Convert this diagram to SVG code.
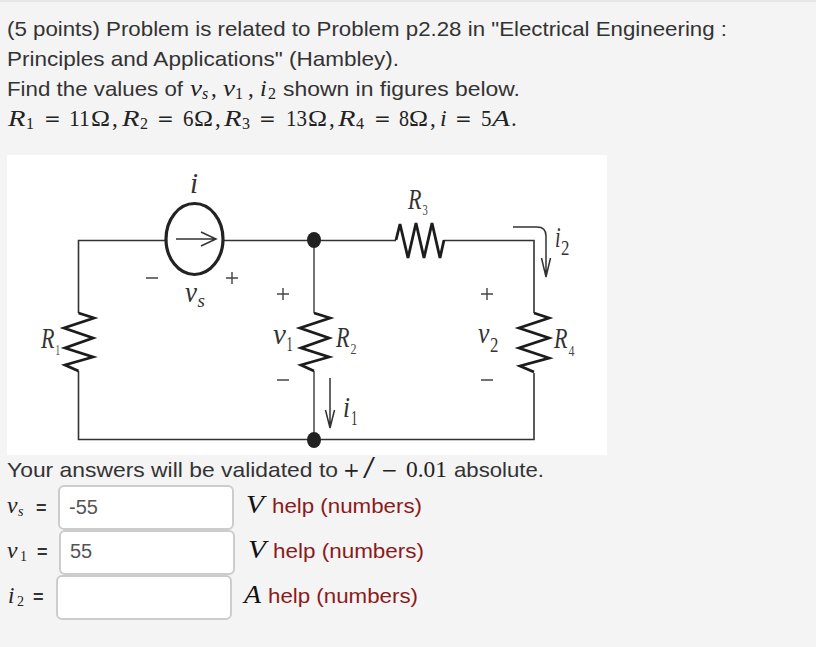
<svg xmlns="http://www.w3.org/2000/svg" width="816" height="647" viewBox="0 0 816 647">
<style>
.t{font-family:"Liberation Sans",Arial,sans-serif;font-size:21px;fill:#333}
.m{font-family:"Liberation Serif","Times New Roman",serif;font-size:23px;fill:#222}
.mi{font-family:"Liberation Serif","Times New Roman",serif;font-style:italic;font-size:24px;fill:#222}
.sb{font-family:"Liberation Serif","Times New Roman",serif;font-size:16px;fill:#222}
.e{font-family:"DejaVu Serif",serif;font-size:20px;fill:#222}
.q{font-family:"Liberation Sans",Arial,sans-serif;font-weight:bold;font-size:18px;fill:#333}
.h{font-family:"Liberation Sans",Arial,sans-serif;font-size:21px;fill:#8c1a1a}
.v{font-family:"Liberation Sans",Arial,sans-serif;font-size:20px;fill:#555}
.u{font-family:"Liberation Serif","Times New Roman",serif;font-style:italic;font-size:25px;fill:#111}
.ci{font-family:"Liberation Serif","Times New Roman",serif;font-style:italic;font-size:29px;fill:#333}
.cd{font-family:"Liberation Serif","Times New Roman",serif;font-size:21px;fill:#333}
.cs{font-family:"Liberation Serif","Times New Roman",serif;font-size:15px;fill:#444}
.w{fill:none;stroke:#333;stroke-width:1.6}
.g{fill:none;stroke:#666;stroke-width:1.8}
.z{fill:none;stroke:#1c1c1c;stroke-width:2.8;stroke-linejoin:miter}
.a{fill:none;stroke:#333;stroke-width:1.5}
.b{fill:#fff;stroke:#ccc;stroke-width:2}
.d{fill:#222}
.p{fill:none;stroke:#444;stroke-width:1.4}
</style>
<rect width="816" height="647" fill="#f4f4f4"/>
<rect width="816" height="2" fill="#e6e6e6"/>
<g id="question">
<text class="t" x="7" y="36" textLength="720" lengthAdjust="spacingAndGlyphs">(5 points) Problem is related to Problem p2.28 in "Electrical Engineering :</text>
<text class="t" x="7" y="66" textLength="392" lengthAdjust="spacingAndGlyphs">Principles and Applications" (Hambley).</text>
<text class="t" x="7" y="96" textLength="176" lengthAdjust="spacingAndGlyphs">Find the values of</text>
<text class="mi" x="190" y="96" textLength="12" lengthAdjust="spacingAndGlyphs">v</text><text class="sb" x="202" y="99" font-style="italic">s</text>
<text class="m" x="211" y="96">,</text>
<text class="mi" x="223" y="96" textLength="12" lengthAdjust="spacingAndGlyphs">v</text><text class="sb" x="235" y="99">1</text>
<text class="m" x="248" y="96">,</text>
<text class="mi" x="260" y="96">i</text><text class="sb" x="268" y="99">2</text>
<text class="t" x="283" y="96" textLength="237" lengthAdjust="spacingAndGlyphs">shown in figures below.</text>
<text class="mi" x="8" y="126" textLength="17.500" lengthAdjust="spacingAndGlyphs">R</text><text class="sb" x="26" y="129">1</text>
<text class="e" x="44" y="126">=</text>
<text class="m" x="69" y="126" textLength="21" lengthAdjust="spacingAndGlyphs">11</text>
<text class="m" x="91" y="126" textLength="19" lengthAdjust="spacingAndGlyphs">Ω</text>
<text class="m" x="112" y="126">,</text>
<text class="mi" x="122" y="126" textLength="17.500" lengthAdjust="spacingAndGlyphs">R</text><text class="sb" x="140" y="129">2</text>
<text class="e" x="157" y="126">=</text>
<text class="m" x="183" y="126" textLength="10.500" lengthAdjust="spacingAndGlyphs">6</text>
<text class="m" x="194" y="126" textLength="19" lengthAdjust="spacingAndGlyphs">Ω</text>
<text class="m" x="215" y="126">,</text>
<text class="mi" x="224" y="126" textLength="17.500" lengthAdjust="spacingAndGlyphs">R</text><text class="sb" x="242" y="129">3</text>
<text class="e" x="259" y="126">=</text>
<text class="m" x="286" y="126" textLength="21" lengthAdjust="spacingAndGlyphs">13</text>
<text class="m" x="308" y="126" textLength="19" lengthAdjust="spacingAndGlyphs">Ω</text>
<text class="m" x="329" y="126">,</text>
<text class="mi" x="338" y="126" textLength="17.500" lengthAdjust="spacingAndGlyphs">R</text><text class="sb" x="356" y="129">4</text>
<text class="e" x="374" y="126">=</text>
<text class="m" x="399" y="126" textLength="10" lengthAdjust="spacingAndGlyphs">8</text>
<text class="m" x="409" y="126" textLength="19" lengthAdjust="spacingAndGlyphs">Ω</text>
<text class="m" x="430" y="126">,</text>
<text class="mi" x="440" y="126">i</text>
<text class="e" x="455" y="126">=</text>
<text class="m" x="481" y="126" textLength="10.500" lengthAdjust="spacingAndGlyphs">5</text>
<text class="mi" x="492" y="126" textLength="18" lengthAdjust="spacingAndGlyphs">A</text>
<text class="m" x="511" y="126">.</text>
</g>
<rect id="figure" x="7" y="155" width="600" height="300" fill="#fff"/>
<g id="connectors">
<path class="w" d="M165 240.500H78.500V313M78.500 371V439.500H534V373M534 313V240.500H444M396 240.500H224"/>
<path class="g" d="M314 240V313M314 371V439"/>
</g>
<g id="source">
<ellipse cx="194.500" cy="239" rx="28.500" ry="35.500" fill="none" stroke="#222" stroke-width="3.200"/>
<path class="a" d="M176 239H216M201 232L216 239L201 246"/>
<text class="ci" x="190" y="193">i</text>
<text class="ci" transform="translate(185 302) scale(.93 1)">v</text><text class="ci" x="197.500" y="307" style="font-size:19px">s</text>
<path class="p" d="M146 278H158M226 278H238M232 272V284"/>
</g>
<g id="node-top"><ellipse class="d" cx="314" cy="240" rx="7" ry="8"/></g>
<g id="node-bottom"><ellipse class="d" cx="314" cy="440" rx="7" ry="8"/></g>
<g id="R1">
<path class="z" d="M78.500 313L94 318L64 328L93 338L65 348L93 357L65 365L78.500 371"/>
<text class="ci" transform="translate(41 348) scale(.76 1)">R</text><text class="cs" transform="translate(55.500 355) scale(.6 1)">1</text>
</g>
<g id="R2">
<path class="z" d="M314 313L330 318L300 328L329 338L301 348L329 357L301 365L314 371"/>
<text class="ci" transform="translate(336 347) scale(.76 1)">R</text><text class="cs" transform="translate(350.500 354) scale(.8 1)">2</text>
</g>
<g id="R3">
<path class="z" d="M396 240L400 224L408 258L416 223L424 258L432 223L440 258L444 240"/>
<text class="ci" transform="translate(408 209) scale(.76 1)">R</text><text class="cs" transform="translate(422.500 215) scale(.7 1)">3</text>
</g>
<g id="R4">
<path class="z" d="M534 313L549 318L519 328L549 338L519 348L549 358L520 366L534 372"/>
<text class="ci" transform="translate(554 348) scale(.76 1)">R</text><text class="cs" transform="translate(568.500 356) scale(.8 1)">4</text>
</g>
<g id="v1">
<path class="p" d="M277 294H289M283 288V300M277 380H289"/>
<text class="ci" x="273" y="344">v</text><text class="cd" transform="translate(286.500 351) scale(.6 1)">1</text>
</g>
<g id="v2">
<path class="p" d="M481 294H493M487 288V300M481 380H493"/>
<text class="ci" transform="translate(478 343) scale(.88 1)">v</text><text class="cd" transform="translate(490 352) scale(.8 1)">2</text>
</g>
<g id="i1">
<path class="a" d="M330 378V427M325.500 410L330 428L334.500 410"/>
<text class="ci" transform="translate(343 417) scale(.86 1)">i</text><text class="cd" transform="translate(351 425) scale(.62 1)">1</text>
</g>
<g id="i2">
<path class="a" d="M513 227H537Q546 227 546 236V276M541.500 258L546 277L550.500 258"/>
<text class="ci" transform="translate(555 247) scale(.69 1)">i</text><text class="cd" transform="translate(561 255) scale(.8 1)">2</text>
</g>
<g id="tolerance">
<text class="t" x="7" y="477" textLength="331" lengthAdjust="spacingAndGlyphs">Your answers will be validated to</text>
<text class="e" x="343" y="477">+</text>
<text class="m" x="363" y="478" textLength="12" lengthAdjust="spacingAndGlyphs" style="font-size:31px">/</text>
<text class="e" x="381" y="477">−</text>
<text class="m" x="406" y="477" textLength="41" lengthAdjust="spacingAndGlyphs">0.01</text>
<text class="t" x="454" y="477" textLength="90" lengthAdjust="spacingAndGlyphs">absolute.</text>
</g>
<g id="answer-vs">
<text class="mi" x="7" y="513" textLength="10.500" lengthAdjust="spacingAndGlyphs" style="font-size:23px">v</text><text class="sb" x="18" y="516" font-style="italic" style="font-size:14px">s</text>
<text class="q" x="36" y="514">=</text>
<rect class="b" x="59" y="486" width="174" height="43" rx="5"/>
<text class="v" x="69" y="514">-55</text>
<text class="u" x="246" y="513" textLength="18" lengthAdjust="spacingAndGlyphs">V</text>
<text class="h" x="272" y="513" textLength="150" lengthAdjust="spacingAndGlyphs">help (numbers)</text>
</g>
<g id="answer-v1">
<text class="mi" x="7" y="558" textLength="10.500" lengthAdjust="spacingAndGlyphs" style="font-size:23px">v</text><text class="sb" x="20" y="561" style="font-size:14px">1</text>
<text class="q" x="37" y="558">=</text>
<rect class="b" x="60" y="531" width="174" height="43" rx="5"/>
<text class="v" x="70" y="558">55</text>
<text class="u" x="248" y="558" textLength="18" lengthAdjust="spacingAndGlyphs">V</text>
<text class="h" x="273" y="558" textLength="151" lengthAdjust="spacingAndGlyphs">help (numbers)</text>
</g>
<g id="answer-i2">
<text class="mi" x="8" y="603" style="font-size:23px">i</text><text class="sb" x="17" y="606" style="font-size:14px">2</text>
<text class="q" x="33" y="603">=</text>
<rect class="b" x="57" y="576" width="174" height="43" rx="5"/>
<text class="u" x="244" y="603" textLength="17" lengthAdjust="spacingAndGlyphs">A</text>
<text class="h" x="268" y="603" textLength="150" lengthAdjust="spacingAndGlyphs">help (numbers)</text>
</g>
</svg>
